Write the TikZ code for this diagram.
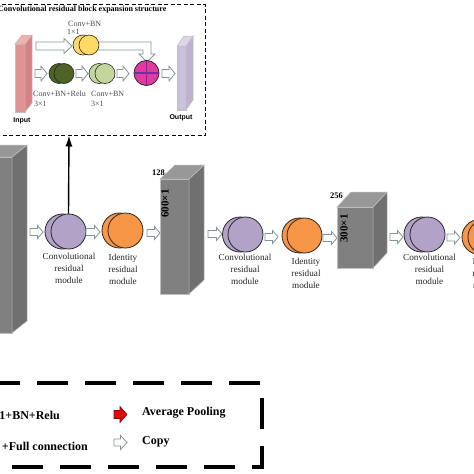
\documentclass[tikz,border=0pt]{standalone}
\usepackage{fontspec}
\setmainfont{Liberation Serif}
\newfontfamily\inpfont{Liberation Sans}
\usetikzlibrary{arrows.meta}
\definecolor{slabF}{RGB}{128,128,128}
\definecolor{slabS}{RGB}{112,112,112}
\definecolor{slabT}{RGB}{152,152,152}
\definecolor{inpkF}{RGB}{226,146,146}
\definecolor{inpkS}{RGB}{214,130,130}
\definecolor{inpkT}{RGB}{238,176,176}
\definecolor{outlvF}{RGB}{204,193,218}
\definecolor{outlvS}{RGB}{190,178,208}
\definecolor{outlvT}{RGB}{220,212,232}
\definecolor{purp}{RGB}{178,162,199}
\definecolor{orng}{RGB}{247,150,70}
\definecolor{ylw}{RGB}{255,217,102}
\definecolor{dgrn}{RGB}{79,98,40}
\definecolor{lgrn}{RGB}{195,214,155}
\definecolor{mag}{RGB}{228,58,160}
\definecolor{crs}{RGB}{112,48,160}
\definecolor{arrline}{RGB}{128,150,150}
\definecolor{redar}{RGB}{225,10,10}
\tikzset{
  copyarrow/.style={draw=arrline, fill=white, line width=0.8pt, line join=miter},
  redarrow/.style={draw=red!60!black, fill=redar, line width=0.6pt},
  slabedge/.style={draw=black!25, line width=0.5pt},
  dc/.style={circle, draw=black!85, line width=0.8pt, minimum size=35pt, inner sep=0pt},
  sc/.style={circle, draw=black!85, line width=0.6pt, minimum size=20pt, inner sep=0pt},
  lbl/.style={font=\fontsize{9.2}{12}\selectfont, align=center, inner sep=0pt, text=black!85},
  sml/.style={font=\fontsize{8}{9}\selectfont, inner sep=0pt, text=black!70},
  dimlbl/.style={font=\fontsize{11}{12}\selectfont\bfseries, inner sep=0pt, rotate=90},
  chlbl/.style={font=\fontsize{8.5}{10}\selectfont\bfseries, inner sep=0pt},
  leg/.style={font=\fontsize{12}{14}\selectfont\bfseries, inner sep=0pt},
  tbox/.style={line width=1pt, dash pattern=on 4pt off 2.5pt},
  legbox/.style={line width=3.5pt, dash pattern=on 31pt off 17pt, line join=miter}
}
\newcommand{\hollowarr}[7][copyarrow]{%
  \draw[#1] (#2,{#4-#5}) -- ({#3-#7},{#4-#5}) -- ({#3-#7},{#4-#6}) -- (#3,#4)
    -- ({#3-#7},{#4+#6}) -- ({#3-#7},{#4+#5}) -- (#2,{#4+#5}) -- cycle;}
\newcommand{\slabbox}[7]{%
  \filldraw[slabedge, fill=#7F] (#1,#3) rectangle (#2,#4);
  \filldraw[slabedge, fill=#7S] (#2,#3) -- ({#2+#5},{#3-#6}) -- ({#2+#5},{#4-#6}) -- (#2,#4) -- cycle;
  \filldraw[slabedge, fill=#7T] (#1,#3) -- ({#1+#5},{#3-#6}) -- ({#2+#5},{#3-#6}) -- (#2,#3) -- cycle;}
\begin{document}
\begin{tikzpicture}[x=1pt,y=-1pt]
\useasboundingbox (0,0) rectangle (474,474);
\clip (0,0) rectangle (474,474);
\fill[white] (0,0) rectangle (474,474);

% ---------- top expansion box ----------
\draw[tbox] (-5,4.5) -- (205,4.5) -- (205,135.5) -- (-5,135.5);
\node[font=\fontsize{8}{9}\selectfont\bfseries, anchor=west, inner sep=0pt] (title) at (-2,10) {Convolutional residual block expansion structure};
\coordinate (tbb) at (69,135.5);

\slabbox{15}{25}{44}{112}{7}{9}{inpk}
\slabbox{177}{186}{46}{110}{7}{10}{outlv}
\node[font=\inpfont\fontsize{7}{8}\selectfont\bfseries, inner sep=0pt] (inl) at (22,121) {Input};
\node[font=\inpfont\fontsize{7}{8}\selectfont\bfseries, inner sep=0pt] (outl) at (181,118) {Output};

% upper branch
\hollowarr{36}{72}{46}{4}{7.5}{8}
\draw[copyarrow] (97,42) -- (151,42) -- (151,54) -- (155,54) -- (147,62) -- (139,54) -- (143,54) -- (143,50) -- (97,50) -- cycle;
\node[sc, fill=ylw] (yb) at (83,45) {};
\node[sc, fill=ylw] (y1) at (89,45) {};
\node[sml, anchor=west] (yl1) at (68,24) {Conv+BN};
\node[sml, anchor=west] (yl2) at (67,32) {1×1};

% lower branch
\hollowarr{35}{47}{73.5}{4}{7.5}{6}
\node[sc, fill=dgrn] (gb) at (59,73.5) {};
\node[sc, fill=dgrn] (g1) at (64,73.5) {};
\hollowarr{76}{88}{73.5}{4}{7.5}{6}
\node[sc, fill=lgrn] (lb) at (99,73.5) {};
\node[sc, fill=lgrn] (l1) at (105,73.5) {};
\hollowarr{117}{129}{73.5}{4}{7.5}{6}
\node[circle, draw=black!85, line width=0.8pt, fill=mag, minimum size=25pt, inner sep=0pt] (plus) at (146.5,73) {};
\draw[crs, line width=1.5pt] ([yshift=-0.8pt]plus.north) -- ([yshift=0.8pt]plus.south);
\draw[crs, line width=1.5pt] ([xshift=0.8pt]plus.west) -- ([xshift=-0.8pt]plus.east);
\hollowarr{162}{175}{73.5}{4}{7.5}{6}
\node[sml, anchor=west] (gl1) at (33,93.5) {Conv+BN+Relu};
\node[sml, anchor=west] (gl2) at (34,103.5) {3×1};
\node[sml, anchor=west] (ll1) at (91,93.5) {Conv+BN};
\node[sml, anchor=west] (ll2) at (91,103.5) {3×1};

% ---------- main row ----------
\slabbox{-40}{12}{157}{333}{15}{12}{slab}
\hollowarr{30}{43}{232}{3.5}{6.5}{5.5}
\node[dc, fill=purp] (cv1b) at (62.5,231.5) {};
\node[dc, fill=purp] (cv1) at (68.5,231.5) {};
\node[lbl, anchor=north] (cv1l) at (69,252.5) {Convolutional\\residual\\module};
\draw[line width=1.4pt, -{Latex[length=11pt,width=7pt]}] (cv1.north) -- (tbb);

\hollowarr{86}{100}{232}{3.5}{6.5}{5.5}
\node[dc, fill=orng] (id1b) at (119.5,230.5) {};
\node[dc, fill=orng] (id1) at (125.5,230.5) {};
\node[lbl, anchor=north] (id1l) at (123,253.5) {Identity\\residual\\module};

\hollowarr{147}{160}{233}{3.5}{6.5}{5.5}
\slabbox{160}{189}{179}{294}{15}{14}{slab}
\node[chlbl] (c128) at (158.5,173) {128};
\node[dimlbl] (d600) at (165,203.5) {600×1};

\hollowarr{208}{222}{234}{3.5}{6.5}{5.5}
\node[dc, fill=purp] (cv2b) at (240,234.5) {};
\node[dc, fill=purp] (cv2) at (245.5,234.5) {};
\node[lbl, anchor=north] (cv2l) at (245,253.5) {Convolutional\\residual\\module};

\hollowarr{265}{278}{237}{3.5}{6.5}{5.5}
\node[dc, fill=orng] (id2b) at (299.5,235.5) {};
\node[dc, fill=orng] (id2) at (304.5,235.5) {};
\node[lbl, anchor=north] (id2l) at (306,257.5) {Identity\\residual\\module};

\hollowarr{323}{337}{238}{3.5}{6.5}{5.5}
\slabbox{337}{373}{207}{268}{14}{15}{slab}
\node[chlbl] (c256) at (336.5,196) {256};
\node[dimlbl] (d300) at (344,228.5) {300×1};

\hollowarr{390}{403}{237}{3.5}{6.5}{5.5}
\node[dc, fill=purp] (cv3b) at (421.5,234.5) {};
\node[dc, fill=purp] (cv3) at (427.5,234.5) {};
\node[lbl, anchor=north] (cv3l) at (429.5,253.5) {Convolutional\\residual\\module};

\hollowarr{447}{460}{237.5}{3.5}{6.5}{5.5}
\node[dc, fill=orng] (id3b) at (479.5,237) {};
\node[dc, fill=orng] (id3) at (485.5,237) {};
\node[lbl, anchor=north] (id3l) at (487,258) {Identity\\residual\\module};

% ---------- legend ----------
\draw[legbox] (-59,383) -- (262,383) -- (262,467) -- (-60,467);
\node[leg, anchor=east] (lg1) at (60,415) {1+BN+Relu};
\node[leg, anchor=east] (lg2) at (88,446) {+Full connection};
\hollowarr[redarrow]{114}{127}{414.5}{4}{8}{7}
\node[leg, anchor=west] (lg3) at (142,412.5) {Average Pooling};
\hollowarr{114}{127}{442.5}{3.5}{7}{6.5}
\node[leg, anchor=west] (lg4) at (142,442) {Copy};
\end{tikzpicture}
\end{document}
